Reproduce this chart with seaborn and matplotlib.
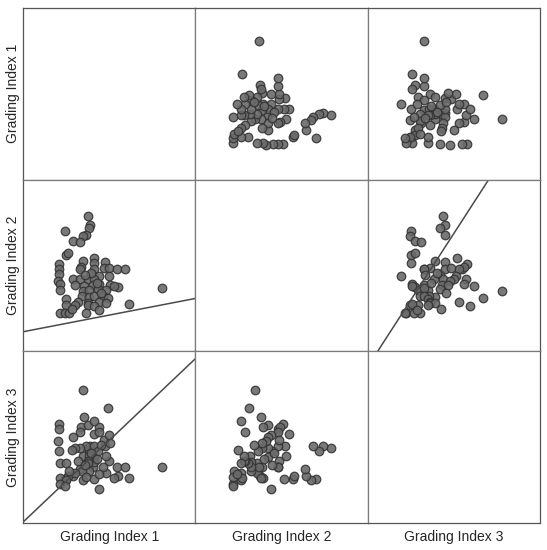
import numpy as np
import pandas as pd
import seaborn as sns
import matplotlib
matplotlib.use("Agg")
import matplotlib.pyplot as plt

# values, in panel units (0-100 of each variable's axis)
gi1 = [37.6, 38.9, 38.5, 24.1, 36.6, 34.7, 28.9, 32.8, 25.0, 26.0, 20.8, 20.8,
       20.8, 41.4, 35.1, 41.4, 47.8, 33.7, 32.8, 41.4, 47.2, 49.7, 54.5, 59.0,
       44.3, 49.7, 28.9, 32.8, 37.6, 41.4, 20.2, 21.2, 29.9, 35.6, 40.5, 44.3,
       50.5, 54.9, 21.6, 35.1, 38.5, 43.4, 48.2, 80.9, 34.3, 38.5, 41.4, 46.2,
       49.1, 24.7, 31.8, 37.6, 44.3, 48.2, 25.0, 29.9, 37.6, 41.4, 61.7, 21.6,
       24.1, 26.6, 36.6, 44.3, 28.5, 53.0, 39.5, 43.0, 36.0, 45.5]
gi2 = [78.7, 73.8, 71.9, 70.3, 68.0, 67.1, 64.1, 63.6, 56.4, 57.0, 50.6, 47.7,
       44.8, 54.5, 52.9, 51.2, 51.9, 49.2, 48.1, 48.1, 48.6, 48.6, 48.1, 48.1,
       43.8, 43.8, 42.2, 42.2, 42.2, 42.2, 40.9, 39.0, 38.4, 38.0, 38.4, 39.0,
       38.4, 37.6, 36.0, 34.9, 36.0, 36.4, 36.0, 36.8, 32.2, 31.8, 32.2, 32.2,
       31.0, 30.6, 28.7, 28.3, 28.7, 28.3, 26.7, 26.7, 26.7, 26.4, 27.3, 22.1,
       22.1, 22.5, 22.1, 24.0, 24.8, 38.0, 45.5, 40.0, 44.5, 34.0]
gi3 = [43.8, 44.8, 41.9, 25.4, 44.8, 24.8, 27.3, 31.2, 25.4, 27.3, 57.8, 55.0,
       41.9, 51.9, 39.0, 25.4, 44.8, 55.8, 53.1, 44.8, 48.6, 36.0, 32.9, 32.9,
       19.6, 51.2, 50.0, 43.8, 57.0, 38.4, 47.7, 26.0, 43.4, 61.6, 32.6, 55.8,
       46.7, 27.5, 35.1, 77.7, 30.2, 41.9, 29.3, 32.6, 30.2, 39.0, 35.7, 32.6,
       67.1, 35.1, 36.0, 36.0, 53.1, 39.0, 24.8, 29.3, 35.1, 59.3, 26.0, 22.5,
       21.5, 30.2, 26.9, 28.7, 42.8, 26.0, 40.5, 37.0, 33.5, 45.5]

labels = ["Grading Index 1", "Grading Index 2", "Grading Index 3"]

# fit lines drawn in three panels: (row, col, intercept, slope)
fit_lines = [(1, 0, 11.4, 0.194),
             (2, 0, 0.5, 0.952),
             (1, 2, -9.0, 1.553)]

df = pd.DataFrame({labels[0]: gi1, labels[1]: gi2, labels[2]: gi3})

sns.set_style("white")
plt.rcParams['font.family'] = ['Liberation Sans', 'DejaVu Sans']

g = sns.PairGrid(df, despine=False, height=1.8)
g.map_offdiag(sns.scatterplot, s=38, color="#6a6a6a", edgecolor="#333333",
              linewidth=0.9, alpha=0.9)
g.set(xlim=(0, 100), ylim=(0, 100), xticks=[], yticks=[])

for row, col, b, m in fit_lines:
    g.axes[row, col].axline((0, b), slope=m, color="#4a4a4a", linewidth=1.1)

for i in range(3):
    for j in range(3):
        ax = g.axes[i, j]
        for side in ax.spines.values():
            side.set_color("#7a7a7a")
            side.set_linewidth(0.9)
        if i == 0:
            ax.spines['top'].set_color("#555555")
        if i == 2:
            ax.spines['bottom'].set_color("#555555")
        if j == 0:
            ax.spines['left'].set_color("#555555")
        if j == 2:
            ax.spines['right'].set_color("#555555")
    g.axes[2, i].set_xlabel(labels[i], fontsize=10, labelpad=5)
    g.axes[i, 0].set_ylabel(labels[i], fontsize=10, labelpad=2)

fig = g.figure
fig.set_size_inches(5.47, 5.50)
fig.subplots_adjust(left=23/547, right=540/547, bottom=1-523/550, top=1-8/550,
                    wspace=0, hspace=0)
fig.savefig("out.png", dpi=100)
